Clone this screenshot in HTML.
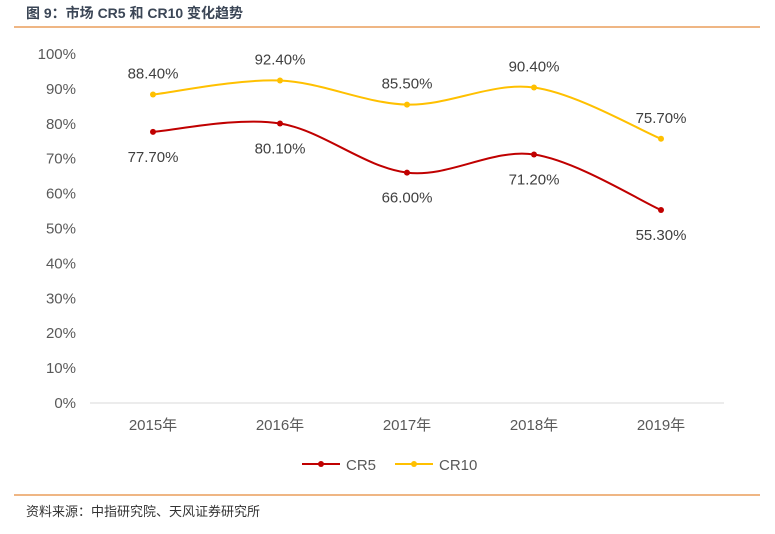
<!DOCTYPE html>
<html><head><meta charset="utf-8"><style>
body{margin:0;width:775px;height:529px;background:#fff;overflow:hidden;font-family:"Liberation Sans","Noto Sans CJK SC",sans-serif}
</style></head><body>
<svg width="775" height="529" xmlns="http://www.w3.org/2000/svg">
<text x="26" y="18" font-size="14" font-weight="bold" fill="#3b4656" font-family="Liberation Sans,Noto Sans CJK SC,sans-serif">图 9：市场 CR5 和 CR10 变化趋势</text>
<line x1="14" y1="27" x2="760" y2="27" stroke="#e58a3a" stroke-width="1.2"/>
<g id="yaxis"></g>
<g id="xaxis"></g>
<g id="series"></g>
<g>
<g><line x1="302" y1="464" x2="340" y2="464" stroke="#c00000" stroke-width="2"/><circle cx="321" cy="464" r="3" fill="#c00000"/><text x="346" y="470" font-size="15" fill="#595959">CR5</text></g>
<g><line x1="395" y1="464" x2="433" y2="464" stroke="#ffc000" stroke-width="2"/><circle cx="414" cy="464" r="3" fill="#ffc000"/><text x="439" y="470" font-size="15" fill="#595959">CR10</text></g>
</g>
<line x1="14" y1="495" x2="760" y2="495" stroke="#e58a3a" stroke-width="1.2"/>
<text x="26" y="516" font-size="13" fill="#333">资料来源：中指研究院、天风证券研究所</text>
</svg>
<script>
const categories=["2015年","2016年","2017年","2018年","2019年"];
const cr5=[77.7,80.1,66.0,71.2,55.3];
const cr10=[88.4,92.4,85.5,90.4,75.7];
const yTicks=[0,10,20,30,40,50,60,70,80,90,100];
const NS="http://www.w3.org/2000/svg";
const y=v=>403-v*3.49;
const x=i=>153+i*127;
function mk(t,a,p){const e=document.createElementNS(NS,t);for(const k in a)e.setAttribute(k,a[k]);p.appendChild(e);return e;}
const ya=document.getElementById('yaxis'),xa=document.getElementById('xaxis'),sg=document.getElementById('series');
yTicks.forEach(v=>{const t=mk('text',{x:76,y:y(v)+5,'font-size':15,fill:'#595959','text-anchor':'end'},ya);t.textContent=v+'%';

});
const base=mk('line',{x1:90,y1:403,x2:724,y2:403,stroke:'#d9d9d9','stroke-width':1},xa);


categories.forEach((c,i)=>{const t=mk('text',{x:x(i),y:430,'font-size':15,fill:'#595959','text-anchor':'middle'},xa);t.textContent=c;

});
function path(vals){const p=vals.map((v,i)=>[x(i),y(v)]);let d='M'+p[0];for(let i=0;i<p.length-1;i++){const p0=p[i-1]||p[i],p1=p[i],p2=p[i+1],p3=p[i+2]||p2;const k=6;
d+=' C'+(p1[0]+(p2[0]-p0[0])/k)+','+(p1[1]+(p2[1]-p0[1])/k)+' '+(p2[0]-(p3[0]-p1[0])/k)+','+(p2[1]-(p3[1]-p1[1])/k)+' '+p2;}return d;}
function draw(vals,col,name,dy){const g=mk('g',{},sg);


const l=mk('path',{d:path(vals),fill:'none',stroke:col,'stroke-width':2},g);


vals.forEach((v,i)=>{const c=mk('circle',{cx:x(i),cy:y(v),r:3,fill:col},g);


const t=mk('text',{x:x(i),y:y(v)+dy,'font-size':15,fill:'#404040','text-anchor':'middle'},g);t.textContent=v.toFixed(2)+'%';

});}
draw(cr10,'#ffc000','cr10',-16);
draw(cr5,'#c00000','cr5',30);
</script>
</body></html>
